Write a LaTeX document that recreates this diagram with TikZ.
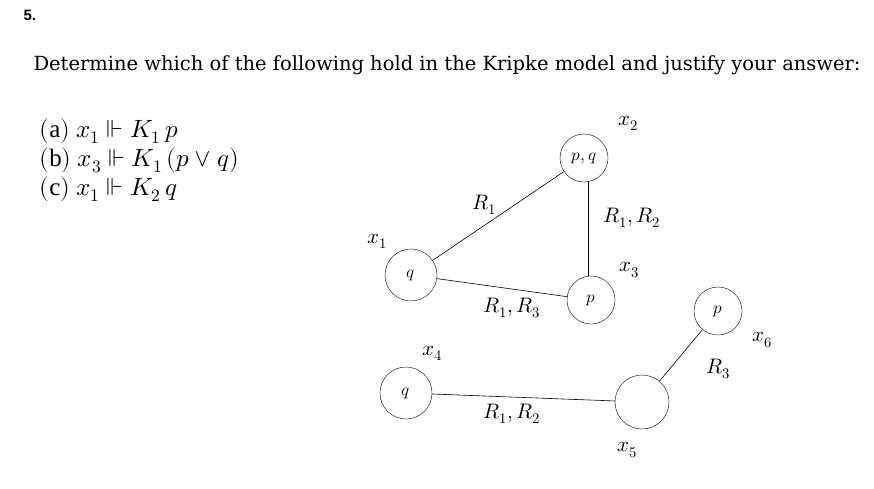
\documentclass[tikz,border=0pt]{standalone}
\usepackage{fontspec}
\setmainfont{Liberation Serif}
\setsansfont{Liberation Sans}
\newfontfamily\headfont{DejaVu Serif}
\usepackage{amssymb}
\usepackage{unicode-math}
\setmathfont{Latin Modern Math}
\newcommand{\forc}{\mathrel{\Vdash}}
\begin{document}
\begin{tikzpicture}[x=1pt,y=-1pt,
  world/.style={draw,circle,minimum size=52pt,inner sep=0pt,font=\fontsize{17}{20}\selectfont},
  lbl/.style={font=\fontsize{21}{24}\selectfont},
  edge/.style={draw,line width=0.6pt}]
\useasboundingbox (0,0) rectangle (874,488);
\node[anchor=west,font=\sffamily\bfseries\fontsize{15}{18}\selectfont] (num) at (20,15) {5.};
\node[anchor=west,font=\headfont\fontsize{19.5}{24}\selectfont] (head) at (30,65) {Determine which of the following hold in the Kripke model and justify your answer:};
\node[anchor=west,font=\fontsize{25}{28}\selectfont] (qa) at (36,131) {$(\mathrm{a})\ x_1\forc K_1\,p$};
\node[anchor=west,font=\fontsize{25}{28}\selectfont] (qb) at (36,160) {$(\mathrm{b})\ x_3\forc K_1\,(p\vee q)$};
\node[anchor=west,font=\fontsize{25}{28}\selectfont] (qc) at (36,189) {$(\mathrm{c})\ x_1\forc K_2\,q$};

\node[world] (x1) at (411,275) {$q$};
\node[world,minimum size=48pt] (x2) at (584,158) {$p,q$};
\node[world,minimum size=48pt] (x3) at (591,300) {$p$};
\node[world,minimum size=48pt] (x6) at (718,311) {$p$};
\node[world] (x4) at (406,393) {$q$};
\node[world,minimum size=54pt] (x5) at (642,402) {};

\node[lbl] (l1) at (377,241) {$x_1$};
\node[lbl] (l2) at (628,123) {$x_2$};
\node[lbl] (l3) at (629,270) {$x_3$};
\node[lbl] (l6) at (762,340) {$x_6$};
\node[lbl] (l4) at (432,353) {$x_4$};
\node[lbl] (l5) at (627,450) {$x_5$};

\draw[edge] (x1) -- node[lbl,pos=0.5,above left=-2pt] (e12) {$R_1$} (x2);
\draw[edge] ([xshift=4pt]x2.south) -- ([xshift=-3pt]x3.north);
\node[lbl] (e23) at (632,218) {$R_1,R_2$};
\draw[edge] (x1) -- (x3);
\node[lbl] (e13) at (512,308) {$R_1,R_3$};
\draw[edge] (x4) -- (x5);
\node[lbl] (e45) at (512,414) {$R_1,R_2$};
\draw[edge] (x5) -- (x6);
\node[lbl] (e56) at (718,369) {$R_3$};
\end{tikzpicture}
\end{document}
